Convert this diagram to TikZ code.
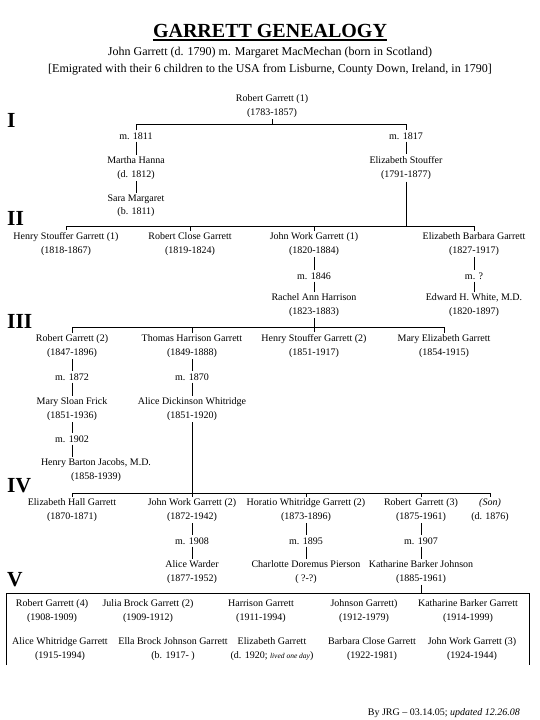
\documentclass[tikz,border=0pt]{standalone}
\usepackage{fontspec}
\setmainfont{Liberation Serif}
\newcommand\pf{\fontsize{10}{13.5}\selectfont}
\tikzset{
  person/.style={align=center, font=\pf, inner sep=2pt},
  marr/.style={font=\pf, inner sep=2pt},
  link/.style={line width=0.9pt},
  gen/.style={font=\fontsize{21.5}{22}\selectfont\bfseries, anchor=base west, inner sep=0pt},
}
\begin{document}
\begin{tikzpicture}[x=1pt,y=-1pt]
\useasboundingbox (0,0) rectangle (540,720);
% title
\node[font=\fontsize{20}{24}\selectfont\bfseries, anchor=base, inner sep=0pt] (title) at (270,37.5) {GARRETT GENEALOGY};
\draw[line width=1.4pt] ([yshift=-2.5pt]title.base west) -- ([yshift=-2.5pt]title.base east);
\node[font=\fontsize{12}{17}\selectfont, anchor=base, inner sep=0pt] (sub1) at (270,55) {John Garrett (d. 1790) m. Margaret MacMechan (born in Scotland)};
\node[font=\fontsize{12}{17}\selectfont, anchor=base, inner sep=0pt] (sub2) at (270,72) {[Emigrated with their 6 children to the USA from Lisburne, County Down, Ireland, in 1790]};
% generations
\node[gen] (gI) at (7,127) {I};
\node[gen] (gII) at (7,225) {II};
\node[gen] (gIII) at (7,328) {III};
\node[gen] (gIV) at (7,492) {IV};
\node[gen] (gV) at (7,586) {V};
% I
\node[person] (rg1) at (272,106) {Robert Garrett (1)\\(1783-1857)};
\coordinate (bI) at (272,124);
\node[marr] (m1811) at (136,136) {m. 1811};
\node[marr] (m1817) at (406,136) {m. 1817};
\node[person] (martha) at (136,168) {Martha Hanna\\(d. 1812)};
\node[person] (sara) at (136,206) {Sara Margaret\\(b. 1811)};
\node[person] (stouffer) at (406,168) {Elizabeth Stouffer\\(1791-1877)};
\draw[link] (rg1.south) -- (bI);
\draw[link] (m1811.north) -- (m1811.north |- bI) -- (m1817.north |- bI) -- (m1817.north);
\draw[link] (m1811.south) -- (martha.north);
\draw[link] (martha.south) -- (sara.north);
\draw[link] (m1817.south) -- (stouffer.north);
% II
\coordinate (bII) at (406,226);
\node[person] (hsg1) at (66,244) {Henry Stouffer Garrett (1)\\(1818-1867)};
\node[person] (rcg) at (190,244) {Robert Close Garrett\\(1819-1824)};
\node[person] (jwg1) at (314,244) {John Work Garrett (1)\\(1820-1884)};
\node[person] (ebg) at (474,244) {Elizabeth Barbara Garrett\\(1827-1917)};
\draw[link] (stouffer.south) -- (bII);
\draw[link] (hsg1.north) -- (hsg1.north |- bII) -- (ebg.north |- bII) -- (ebg.north);
\draw[link] (rcg.north) -- (rcg.north |- bII);
\draw[link] (jwg1.north) -- (jwg1.north |- bII);
\node[marr] (m1846) at (314,276) {m. 1846};
\node[marr] (mq) at (474,276) {m. ?};
\node[person] (rachel) at (314,305) {Rachel Ann Harrison\\(1823-1883)};
\node[person] (edward) at (474,305) {Edward H. White, M.D.\\(1820-1897)};
\draw[link] (jwg1.south) -- (m1846.north);
\draw[link] (m1846.south) -- (rachel.north);
\draw[link] (ebg.south) -- (mq.north);
\draw[link] (mq.south) -- (edward.north);
% III
\coordinate (bIII) at (314,327);
\node[person] (rg2) at (72,346) {Robert Garrett (2)\\(1847-1896)};
\node[person] (thg) at (192,346) {Thomas Harrison Garrett\\(1849-1888)};
\node[person] (hsg2) at (314,346) {Henry Stouffer Garrett (2)\\(1851-1917)};
\node[person] (meg) at (444,346) {Mary Elizabeth Garrett\\(1854-1915)};
\draw[link] (rachel.south) -- (bIII);
\draw[link] (rg2.north) -- (rg2.north |- bIII) -- (meg.north |- bIII) -- (meg.north);
\draw[link] (thg.north) -- (thg.north |- bIII);
\draw[link] (hsg2.north) -- (hsg2.north |- bIII);
\node[marr] (m1872) at (72,377) {m. 1872};
\node[marr] (m1870) at (192,377) {m. 1870};
\node[person] (msf) at (72,409) {Mary Sloan Frick\\(1851-1936)};
\node[person] (adw) at (192,409) {Alice Dickinson Whitridge\\(1851-1920)};
\node[marr] (m1902) at (72,439) {m. 1902};
\node[person] (hbj) at (96,470) {Henry Barton Jacobs, M.D.\\(1858-1939)};
\draw[link] (rg2.south) -- (m1872.north);
\draw[link] (m1872.south) -- (msf.north);
\draw[link] (msf.south) -- (m1902.north);
\draw[link] (m1902.south) -- (m1902.south |- hbj.north);
\draw[link] (thg.south) -- (m1870.north);
\draw[link] (m1870.south) -- (adw.north);
% IV
\coordinate (bIV) at (192,493);
\node[person] (ehg) at (72,510) {Elizabeth Hall Garrett\\(1870-1871)};
\node[person] (jwg2) at (192,510) {John Work Garrett (2)\\(1872-1942)};
\node[person] (hwg2) at (306,510) {Horatio Whitridge Garrett (2)\\(1873-1896)};
\node[person] (rg3) at (421,510) {Robert\, Garrett (3)\\(1875-1961)};
\node[person] (son) at (490,510) {\textit{(Son)}\\(d. 1876)};
\draw[link] (adw.south) -- (bIV);
\draw[link] (ehg.north) -- (ehg.north |- bIV) -- (son.north |- bIV) -- (son.north);
\draw[link] (jwg2.north) -- (jwg2.north |- bIV);
\draw[link] (hwg2.north) -- (hwg2.north |- bIV);
\draw[link] (rg3.north) -- (rg3.north |- bIV);
\node[marr] (m1908) at (192,541) {m. 1908};
\node[marr] (m1895) at (306,541) {m. 1895};
\node[marr] (m1907) at (421,541) {m. 1907};
\node[person] (aw) at (192,572) {Alice Warder\\(1877-1952)};
\node[person] (cdp) at (306,572) {Charlotte Doremus Pierson\\( ?-?)};
\node[person] (kbj) at (421,572) {Katharine Barker Johnson\\(1885-1961)};
\draw[link] (jwg2.south) -- (m1908.north);
\draw[link] (m1908.south) -- (aw.north);
\draw[link] (hwg2.south) -- (m1895.north);
\draw[link] (m1895.south) -- (cdp.north);
\draw[link] (rg3.south) -- (m1907.north);
\draw[link] (m1907.south) -- (kbj.north);
% V
\coordinate (bV) at (421,593);
\coordinate (boxTL) at (6,593);
\coordinate (boxTR) at (529,593);
\coordinate (boxBL) at (6,665);
\coordinate (boxBR) at (529,665);
\draw[link] (kbj.south) -- (bV);
\draw[link] (boxBL) -- (boxTL) -- (boxTR) -- (boxBR);
\node[person] (rg4) at (52,611) {Robert Garrett (4)\\(1908-1909)};
\node[person] (jbg2) at (148,611) {Julia Brock Garrett (2)\\(1909-1912)};
\node[person] (hg) at (261,611) {Harrison Garrett\\(1911-1994)};
\node[person] (jg) at (364,611) {Johnson Garrett)\\(1912-1979)};
\node[person] (kbg) at (468,611) {Katharine Barker Garrett\\(1914-1999)};
\node[person] (awg) at (60,649) {Alice Whitridge Garrett\\(1915-1994)};
\node[person] (ebjg) at (173,649) {Ella Brock Johnson Garrett\\(b. 1917- )};
\node[person] (eg) at (272,649) {Elizabeth Garrett\\(d. 1920; {\fontsize{7.5}{9}\selectfont\itshape lived one day})};
\node[person] (bcg) at (372,649) {Barbara Close Garrett\\(1922-1981)};
\node[person] (jwg3) at (472,649) {John Work Garrett (3)\\(1924-1944)};
% footer
\node[font=\pf, anchor=base east, inner sep=0pt] (footer) at (520,715) {By JRG – 03.14.05; \textit{updated 12.26.08}};
\end{tikzpicture}
\end{document}
